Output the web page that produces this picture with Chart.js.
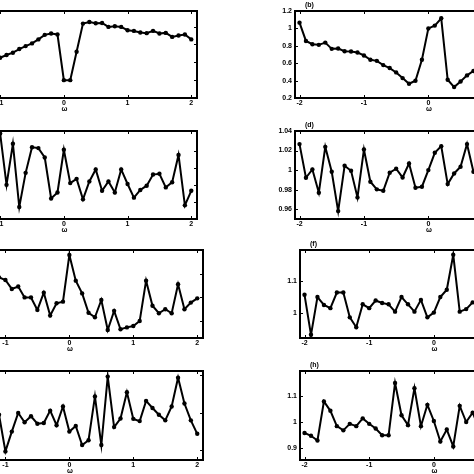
<!DOCTYPE html>
<html><head><meta charset="utf-8">
<script src="https://cdn.jsdelivr.net/npm/chart.js@4.4.1/dist/chart.umd.min.js"></script>
<style>
html,body{margin:0;padding:0;background:#fff;overflow:hidden;width:474px;height:474px;position:relative}
canvas{position:absolute}
</style></head><body>
<script>
// ---------- data ----------
const xTicks = [-2, -1, 0, 1, 2];
const xLeft  = [-1.1,-1.0,-0.9,-0.8,-0.7,-0.6,-0.5,-0.4,-0.3,-0.2,-0.1,0.0,0.1,0.2,0.3,0.4,0.5,0.6,0.7,0.8,0.9,1.0,1.1,1.2,1.3,1.4,1.5,1.6,1.7,1.8,1.9,2.0];
const xRight = [-2.0,-1.9,-1.8,-1.7,-1.6,-1.5,-1.4,-1.3,-1.2,-1.1,-1.0,-0.9,-0.8,-0.7,-0.6,-0.5,-0.4,-0.3,-0.2,-0.1,0.0,0.1,0.2,0.3,0.4,0.5,0.6,0.7,0.8];

const yA = [0.62,0.651,0.681,0.707,0.748,0.781,0.811,0.856,0.907,0.922,0.911,0.400,0.400,0.718,1.033,1.051,1.037,1.040,0.996,1.003,0.996,0.959,0.951,0.933,0.926,0.951,0.922,0.929,0.884,0.900,0.911,0.856];
const yB = [1.066,0.856,0.818,0.811,0.837,0.765,0.769,0.738,0.734,0.723,0.689,0.639,0.627,0.578,0.544,0.494,0.429,0.364,0.398,0.639,1.000,1.032,1.116,0.410,0.326,0.390,0.460,0.510,0.520];
const yC = [null,1.060,1.000,1.048,0.974,1.014,1.044,1.043,1.032,0.984,0.991,1.041,1.002,1.007,0.983,1.004,1.018,0.993,1.004,0.991,1.018,1.001,0.985,0.994,0.999,1.012,1.013,0.997,1.003,1.035,0.976,0.993];
const yD = [1.0266,0.9922,1.0007,0.9769,1.0238,0.9983,0.9581,1.0044,0.9993,0.9721,1.0211,0.9881,0.9803,0.9789,0.9973,1.0014,0.9925,1.0068,0.9820,0.9830,1.0000,1.0177,1.0245,0.9857,0.9966,1.0034,1.0266,0.9983,0.990];
const yE = [1.084,1.073,1.035,1.045,0.999,0.999,0.946,1.019,0.922,0.974,0.981,1.179,1.070,1.016,0.934,0.915,0.988,0.861,0.942,0.864,0.872,0.878,0.899,1.070,0.964,0.932,0.949,0.932,1.055,0.949,0.977,0.995];
const yF = [1.058,0.932,1.051,1.026,1.016,1.065,1.065,0.987,0.956,1.028,1.016,1.040,1.032,1.028,1.005,1.051,1.028,1.005,1.042,0.987,1.002,1.051,1.074,1.184,1.005,1.013,1.034,1.030,1.020];
const yG = [0.994,0.896,0.949,0.999,0.974,0.990,0.970,0.972,1.005,0.966,1.016,0.949,0.964,0.913,0.926,1.043,0.913,1.096,0.961,0.984,1.054,0.983,0.977,1.031,1.012,0.994,0.979,1.016,1.093,1.024,0.979,0.943];
const yH = [0.957,0.946,0.928,1.078,1.042,0.983,0.967,0.992,0.983,1.013,0.992,0.974,0.948,0.948,1.149,1.025,0.987,1.129,0.983,1.065,1.003,0.924,0.970,0.905,1.061,0.999,1.035,0.975,1.000];

const yTicksA = [0.2,0.4,0.6,0.8,1.0];
const yTicksB = [0.2,0.4,0.6,0.8,1.0,1.2];
const yTicksC = [0.96,0.98,1.0,1.02,1.04];
const yTicksD = [0.96,0.98,1.0,1.02,1.04];
const yTicksE = [0.9,1.0,1.1,1.2];
const yTicksF = [1.0,1.1];
const yTicksG = [0.9,1.0,1.1];
const yTicksH = [0.9,1.0,1.1];

const panelLabels = ['(a)','(b)','(c)','(d)','(e)','(f)','(g)','(h)'];
const xAxisLabel = 'ω';

// ---------- layout (plot-area rectangles, page px) ----------
const panels = [
  {label: panelLabels[0], x: xLeft,  y: yA, yMin: 0.2,   yMax: 1.174, yTicks: yTicksA, rect: [-68, 11, 197, 98]},
  {label: panelLabels[1], x: xRight, y: yB, yMin: 0.2,   yMax: 1.2,   yTicks: yTicksB, rect: [295, 11, 563, 98]},
  {label: panelLabels[2], x: xLeft,  y: yC, yMin: 0.96,  yMax: 1.063, yTicks: yTicksC, rect: [-68, 131, 197, 219]},
  {label: panelLabels[3], x: xRight, y: yD, yMin: 0.95,  yMax: 1.04,  yTicks: yTicksD, rect: [295, 131, 563, 219]},
  {label: panelLabels[4], x: xLeft,  y: yE, yMin: 0.827, yMax: 1.2,   yTicks: yTicksE, rect: [-63, 250, 203, 338]},
  {label: panelLabels[5], x: xRight, y: yF, yMin: 0.922, yMax: 1.199, yTicks: yTicksF, rect: [300, 250, 569, 338]},
  {label: panelLabels[6], x: xLeft,  y: yG, yMin: 0.873, yMax: 1.111, yTicks: yTicksG, rect: [-63, 371, 203, 460]},
  {label: panelLabels[7], x: xRight, y: yH, yMin: 0.853, yMax: 1.195, yTicks: yTicksH, rect: [300, 371, 569, 460]},
];
const X_MIN = -2.07, X_MAX = 2.09;
const FONT = "'Liberation Sans', Arial, sans-serif";

const boxPlugin = {
  id: 'matlabBox',
  afterDraw(chart, args, opts) {
    const {ctx, chartArea: a, scales} = chart;
    ctx.save();
    ctx.strokeStyle = '#000';
    ctx.lineWidth = 1;
    const tl = 3;
    scales.x.ticks.forEach(t => {
      const px = Math.round(scales.x.getPixelForValue(t.value)) + 0.5;
      ctx.beginPath();
      ctx.moveTo(px, a.bottom); ctx.lineTo(px, a.bottom - tl);
      ctx.moveTo(px, a.top); ctx.lineTo(px, a.top + tl);
      ctx.stroke();
    });
    scales.y.ticks.forEach(t => {
      const py = Math.round(scales.y.getPixelForValue(t.value)) + 0.5;
      ctx.beginPath();
      ctx.moveTo(a.left, py); ctx.lineTo(a.left + tl, py);
      ctx.moveTo(a.right, py); ctx.lineTo(a.right - tl, py);
      ctx.stroke();
    });
    ctx.lineWidth = 2;
    ctx.strokeRect(Math.round(a.left), Math.round(a.top), Math.round(a.right - a.left), Math.round(a.bottom - a.top));
    ctx.fillStyle = '#000';
    ctx.font = 'bold 7px ' + FONT;
    ctx.textAlign = 'left';
    ctx.textBaseline = 'middle';
    ctx.fillText(opts.label, a.left + 10, a.top - 6);
    ctx.restore();
  }
};

function makePanel(p) {
  const YW = 30, PT = 14, PR = 10, XH = 15;
  const [l, t, r, b] = p.rect;
  const cv = document.createElement('canvas');
  let w = r - l + YW + PR, h = b - t + PT + XH;
  cv.width = w; cv.height = h;
  cv.style.width = w + 'px'; cv.style.height = h + 'px';
  cv.style.left = (l - YW) + 'px'; cv.style.top = (t - PT) + 'px';
  document.body.appendChild(cv);
  const pts = p.x.map((xv, i) => ({x: xv, y: p.y[i]}));
  const chart = new Chart(cv, {
    type: 'line',
    data: {datasets: [{
      data: pts, borderColor: '#000', borderWidth: 2, tension: 0,
      pointRadius: 2.2, pointBackgroundColor: '#000', pointBorderColor: '#000', pointBorderWidth: 0,
      spanGaps: false
    }]},
    options: {
      responsive: false, animation: false, devicePixelRatio: 1,
      layout: {padding: {top: PT, right: PR, left: 0, bottom: 0}},
      plugins: {legend: {display: false}, tooltip: {enabled: false}, title: {display: false},
                matlabBox: {label: p.label}},
      scales: {
        x: {
          type: 'linear', min: X_MIN, max: X_MAX,
          grid: {display: false, drawTicks: false}, border: {display: false},
          afterBuildTicks: s => { s.ticks = xTicks.map(v => ({value: v})); },
          ticks: {color: '#000', padding: 1, font: {family: FONT, size: 7, weight: 'bold'},
                  maxRotation: 0, autoSkip: false, callback: v => String(v)},
          title: {display: true, text: xAxisLabel, color: '#000', padding: 0,
                  font: {family: FONT, size: 7, weight: 'bold'}},
          afterFit: s => { s.height = XH; }
        },
        y: {
          type: 'linear', min: p.yMin, max: p.yMax,
          grid: {display: false, drawTicks: false}, border: {display: false},
          afterBuildTicks: s => { s.ticks = p.yTicks.map(v => ({value: v})); },
          ticks: {color: '#000', padding: 3, font: {family: FONT, size: 7, weight: 'bold'},
                  autoSkip: false, callback: v => String(+v.toFixed(3))},
          afterFit: s => { s.width = YW; }
        }
      }
    },
    plugins: [boxPlugin]
  });
  // align chart area exactly with the target rectangle
  let ca = chart.chartArea;
  const dw = (r - l) - (ca.right - ca.left), dh = (b - t) - (ca.bottom - ca.top);
  if (Math.abs(dw) > 0.01 || Math.abs(dh) > 0.01) {
    w = Math.round(w + dw); h = Math.round(h + dh);
    chart.resize(w, h);
    ca = chart.chartArea;
  }
  cv.style.left = Math.round(l - ca.left) + 'px';
  cv.style.top = Math.round(t - ca.top) + 'px';
}

panels.forEach(makePanel);
</script>
</body></html>
